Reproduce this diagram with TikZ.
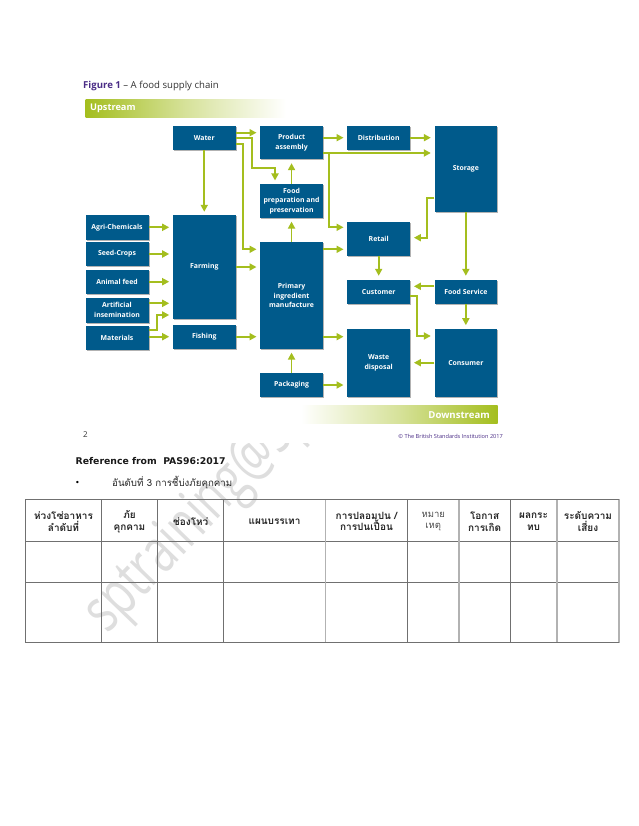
\documentclass[tikz,border=0pt]{standalone}
\usepackage{fontspec}
\setmainfont{Open Sans}
\newfontfamily\thaifont[Script=Thai]{Loma}
\newfontfamily\dejafont{DejaVu Sans}
\usetikzlibrary{arrows.meta,shadows,shapes.geometric}
\definecolor{boxblue}{HTML}{005A8B}
\definecolor{leaf}{HTML}{A4BE1E}
\definecolor{figpurple}{HTML}{4A2C86}
\definecolor{rule}{HTML}{707070}
\tikzset{
  box/.style={fill=boxblue,text=white,inner sep=0pt,anchor=north west,align=center,
    font=\fontsize{6.9}{9.6}\selectfont\bfseries,
    drop shadow={shadow xshift=1pt,shadow yshift=-1pt,opacity=.3,fill=black}},
  arr/.style={draw=leaf,line width=1.8pt,-{Triangle[length=7pt,width=7pt]},shorten >=3.5pt},
  head/.style={font=\thaifont\fontsize{10}{11.8}\selectfont\bfseries,align=center,text=black!85,inner sep=0pt},
  tline/.style={draw=rule,line width=.8pt},
  tlight/.style={draw=black!30,line width=1.1pt},
}
\newcommand{\bx}[6]{\node[box,minimum width=#4 pt,minimum height=#5 pt] (#1) at (#2,#3) {#6};}
\begin{document}
\begin{tikzpicture}[x=1pt,y=-1pt]
\useasboundingbox (0,0) rectangle (638,826);
\fill[white] (0,0) rectangle (638,826);
% watermark
\begin{scope}
\clip (0,443) rectangle (638,826);
\node[rotate=46,xscale=.72,anchor=south west,inner sep=0pt,text=black!13,font=\fontsize{62}{62}\selectfont] (wm) at (118,645) {sptraining@sp-};
\end{scope}
% title
\node[anchor=west,inner sep=0pt,font=\fontsize{9.6}{10}\selectfont] (title) at (83,86) {\textcolor{figpurple}{\bfseries Figure 1} \textcolor{black!80}{– A food supply chain}};
% bars
\node[anchor=north west,inner sep=0pt,minimum width=200pt,minimum height=18.3pt,left color=leaf,right color=white,middle color=leaf!45] (upbar) at (85.3,99) {};
\node[anchor=west,inner sep=0pt,text=white,font=\fontsize{9.2}{10}\selectfont\bfseries] (uplabel) at (90,108.3) {Upstream};
\node[anchor=north west,inner sep=0pt,minimum width=197pt,minimum height=18pt,left color=white,right color=leaf,middle color=leaf!45] (downbar) at (300.5,405.7) {};
\node[anchor=east,inner sep=0pt,text=white,font=\fontsize{9.6}{10}\selectfont\bfseries] (downlabel) at (490,415) {Downstream};
% boxes
\bx{water}{172.7}{126}{62.7}{24}{Water}
\bx{product}{260}{126}{62.7}{33.3}{Product\\assembly}
\bx{prep}{260}{184}{62.7}{33.7}{Food\\preparation and\\preservation}
\bx{agri}{85.3}{215.3}{63}{24.7}{Agri-Chemicals}
\bx{seed}{85.3}{242}{63}{24}{Seed-Crops}
\bx{animal}{85.3}{270}{63}{23.7}{Animal feed}
\bx{artificial}{85.3}{297.3}{63}{25}{Artificial\\insemination}
\bx{materials}{85.3}{325.7}{63}{24}{Materials}
\bx{farming}{172.7}{215.3}{62.7}{103}{Farming}
\bx{fishing}{172.7}{324.7}{62.7}{24}{Fishing}
\bx{primary}{260}{242}{62.7}{106.7}{Primary\\ingredient\\manufacture}
\bx{packaging}{260}{373}{62.7}{24}{Packaging}
\bx{distribution}{347}{126}{63}{24}{Distribution}
\bx{storage}{434.3}{126}{62.7}{85.7}{Storage}
\bx{retail}{347}{221.7}{63}{33.6}{Retail}
\bx{customer}{347}{279.3}{63}{24.4}{Customer}
\bx{foodservice}{434.3}{279.3}{62.7}{24.4}{Food Service}
\bx{waste}{347}{328.7}{63}{68.3}{Waste\\disposal}
\bx{consumer}{434.3}{328.7}{62.7}{68.3}{Consumer}
% connectors
\draw[arr] (water.east |- 0,132.7) -- (product.west |- 0,132.7);
\draw[arr] (water.east |- 0,138) -- (251.7,138) -- (251.7,168.3) -- (275,168.3) -- (prep.north -| 275,0);
\draw[arr] (water.east |- 0,144) -- (243.3,144) -- (243.3,249.3) -- (primary.west |- 0,249.3);
\draw[arr] (water) -- (farming);
\draw[arr] (prep) -- (product);
\draw[arr] (primary) -- (prep);
\draw[arr] (agri.east |- 0,227.3) -- (farming.west |- 0,227.3);
\draw[arr] (seed.east |- 0,254) -- (farming.west |- 0,254);
\draw[arr] (animal.east |- 0,281.7) -- (farming.west |- 0,281.7);
\draw[arr] (artificial.east |- 0,303.3) -- (farming.west |- 0,303.3);
\draw[arr] (materials.east |- 0,330) -- (156.7,330) -- (156.7,315) -- (farming.west |- 0,315);
\draw[arr] (materials.east |- 0,336.7) -- (fishing.west |- 0,336.7);
\draw[arr] (farming.east |- 0,267) -- (primary.west |- 0,267);
\draw[arr] (fishing.east |- 0,336.7) -- (primary.west |- 0,336.7);
\draw[arr] (packaging) -- (primary);
\draw[arr] (packaging.east |- 0,385) -- (waste.west |- 0,385);
\draw[arr] (primary.east |- 0,336.7) -- (waste.west |- 0,336.7);
\draw[arr] (primary.east |- 0,249.3) -- (retail.west |- 0,249.3);
\draw[arr] (product.east |- 0,137.7) -- (distribution.west |- 0,137.7);
\draw[arr] (product.east |- 0,153) -- (storage.west |- 0,153);
\draw[arr] (329,153) -- (329,227.3) -- (retail.west |- 0,227.3);
\draw[arr] (distribution.east |- 0,137.7) -- (storage.west |- 0,137.7);
\draw[arr] (storage.west |- 0,197.7) -- (427.3,197.7) -- (427.3,237.7) -- (retail.east |- 0,237.7);
\draw[arr] (storage) -- (foodservice);
\draw[arr] (retail) -- (customer);
\draw[arr] (foodservice.west |- 0,286.3) -- (customer.east |- 0,286.3);
\draw[arr] (foodservice) -- (consumer);
\draw[arr] (customer.east |- 0,296) -- (417.3,296) -- (417.3,336) -- (consumer.west |- 0,336);
\draw[arr] (consumer.west |- 0,362.7) -- (waste.east |- 0,362.7);
% captions
\node[anchor=west,inner sep=0pt,font=\fontsize{8}{10}\selectfont,text=black!80] (pagenum) at (83,435) {2};
\node[anchor=east,inner sep=0pt,font=\fontsize{5.6}{7}\selectfont,text=figpurple] (copyright) at (503,436.7) {© The British Standards Institution 2017};
\node[anchor=west,inner sep=0pt,font=\dejafont\fontsize{9.3}{10}\selectfont\bfseries,text=black!90] (ref) at (75.5,461) {Reference from\ \ PAS96:2017};
\node[anchor=center,inner sep=0pt,font=\dejafont\fontsize{8}{10}\selectfont] (bullet) at (77.5,483) {•};
\node[anchor=west,inner sep=0pt,font=\thaifont\fontsize{9.7}{10}\selectfont,text=black!85] (sub) at (112,483) {อันดับที่ 3 การชี้บ่งภัยคุกคาม};
% table
\draw[tline] (25.7,499.3) rectangle (619,642.7);
\draw[tline] (25.7,541.3) -- (619,541.3);
\draw[tline] (25.7,582.3) -- (619,582.3);
\foreach \cx in {101.3,157.7,223.7,407.7,510.3}{\draw[tline] (\cx,499.3) -- (\cx,642.7);}
\foreach \cx in {325.2,459,557,619}{\draw[tlight] (\cx,499.3) -- (\cx,642.7);}
\draw[tline] (25.7,499.3) -- (619,499.3);
\draw[tline] (25.7,642.7) -- (619,642.7);
\node[head] (h1) at (63.5,521.5) {ห่วงโซ่อาหาร\\ลำดับที่};
\node[head] (h2) at (129.5,521.5) {ภัย\\คุกคาม};
\node[head] (h3) at (190.7,521.5) {ช่องโหว่};
\node[head] (h4) at (274.5,521.5) {แผนบรรเทา};
\node[head] (h5) at (366.5,521.5) {การปลอมปน /\\การปนเปื้อน};
\node[head,font=\thaifont\fontsize{9.5}{11.8}\selectfont,text=black!70] (h6) at (433.3,521.5) {หมาย\\เหตุ};
\node[head] (h7) at (484.6,521.5) {โอกาส\\การเกิด};
\node[head] (h8) at (533.6,521.5) {ผลกระ\\ทบ};
\node[head] (h9) at (588,521.5) {ระดับความ\\เสี่ยง};
\end{tikzpicture}
\end{document}
